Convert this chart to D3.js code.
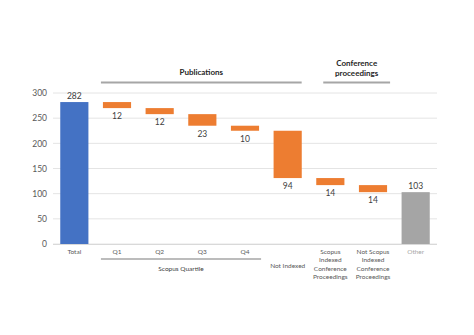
<!DOCTYPE html>
<html><head><meta charset="utf-8">
<script src="https://cdn.jsdelivr.net/npm/d3@7"></script>
<style>body{margin:0;background:#fff}svg{display:block;font-family:Lato,"Open Sans",sans-serif}</style>
</head><body><div id="chart"></div>
<script>
const categories = ["Total","Q1","Q2","Q3","Q4","Not Indexed","Scopus Indexed Conference Proceedings","Not Scopus Indexed Conference Proceedings","Other"];
const categoryLines = [["Total"],["Q1"],["Q2"],["Q3"],["Q4"],["Not Indexed"],["Scopus","Indexed","Conference","Proceedings"],["Not Scopus","Indexed","Conference","Proceedings"],["Other"]];
const values = [282,12,12,23,10,94,14,14,103];
const kinds = ["total","decrease","decrease","decrease","decrease","decrease","decrease","decrease","other"];
const yTicks = [0,50,100,150,200,250,300];
const topGroupLabels = [["Publications"],["Conference","proceedings"]];
const bottomGroupLabel = "Scopus Quartile";
const colors = {total:"#4472C4", decrease:"#ED7D31", other:"#A5A5A5"};

const W=474,H=335;
const svg=d3.select("#chart").append("svg").attr("width",W).attr("height",H);
const x=d3.scaleBand().domain(categories).range([53,437]).paddingInner(0.34).paddingOuter(0.17);
const y=d3.scaleLinear().domain([0,300]).range([244,93]);

// gridlines
svg.append("g").selectAll("line").data(yTicks).join("line")
 .attr("x1",53).attr("x2",437).attr("y1",d=>y(d)).attr("y2",d=>y(d))
 .attr("stroke","#E4E4E4").attr("stroke-width",1);

// y axis labels
const yAxis=d3.axisLeft(y).tickValues(yTicks).tickSize(0).tickPadding(6);
const ga=svg.append("g").attr("transform","translate(53,0)").call(yAxis);
ga.select(".domain").remove();
ga.selectAll("text").attr("fill","#595959").style("font-size","8.5px").style("font-family","Lato,sans-serif");

// compute waterfall
let running=0;
const bars=values.map((v,i)=>{
  let lo,hi;
  if(kinds[i]==="total"){lo=0;hi=v;running=v;}
  else if(kinds[i]==="other"){lo=0;hi=v;}
  else {hi=running;lo=running-v;running=lo;}
  return {cat:categories[i],v,lo,hi,kind:kinds[i]};
});
svg.append("g").selectAll("rect").data(bars).join("rect")
 .attr("x",d=>x(d.cat)).attr("width",x.bandwidth())
 .attr("y",d=>y(d.hi)).attr("height",d=>y(d.lo)-y(d.hi))
 .attr("fill",d=>colors[d.kind]);

// data labels
svg.append("g").selectAll("text").data(bars).join("text")
 .attr("x",d=>x(d.cat)+x.bandwidth()/2)
 .attr("y",d=>d.kind==="decrease"? y(d.lo)+11 : y(d.hi)-3)
 .attr("text-anchor","middle").attr("fill","#404040").style("font-size","8.5px")
 .text(d=>d.v);

// baseline axis
svg.append("line").attr("x1",53).attr("x2",437).attr("y1",244.5).attr("y2",244.5).attr("stroke","#D9D9D9");

// category labels
const cl=svg.append("g");
categories.forEach((c,i)=>{
  const lines=categoryLines[i];
  const cx=x(c)+x.bandwidth()/2;
  const y0 = c==="Not Indexed"?268:254;
  lines.forEach((t,j)=>{
    cl.append("text").attr("x",cx).attr("y",y0+j*8.4).attr("text-anchor","middle")
      .attr("fill", c==="Other"?"#A6A6A6":"#595959").style("font-size","6.5px").text(t);
  });
});

// bottom group: Scopus Quartile (Q1..Q4)
const bx0=x("Q1")-2, bx1=x("Q4")+x.bandwidth()+2;
svg.append("line").attr("x1",bx0).attr("x2",bx1).attr("y1",259).attr("y2",259).attr("stroke","#A6A6A6").attr("stroke-width",1.3);
svg.append("text").attr("x",(bx0+bx1)/2).attr("y",271).attr("text-anchor","middle").attr("fill","#404040").style("font-size","6.5px").text(bottomGroupLabel);

// top group: Publications
const qx0=x("Q1")-2, qx1=x("Not Indexed")+x.bandwidth()/2+14;
svg.append("line").attr("x1",qx0).attr("x2",qx1).attr("y1",82.5).attr("y2",82.5).attr("stroke","#A6A6A6").attr("stroke-width",1.8);
svg.append("text").attr("x",(qx0+qx1)/2).attr("y",74.5).attr("text-anchor","middle").attr("fill","#262626").style("font-size","8px").style("font-weight","bold").text(topGroupLabels[0][0]);

// top group: Conference proceedings
const cx0=x("Scopus Indexed Conference Proceedings")+7, cx1=x("Not Scopus Indexed Conference Proceedings")+x.bandwidth()+3;
svg.append("line").attr("x1",cx0).attr("x2",cx1).attr("y1",82.5).attr("y2",82.5).attr("stroke","#A6A6A6").attr("stroke-width",1.8);
topGroupLabels[1].forEach((t,j)=>{
  svg.append("text").attr("x",(cx0+cx1)/2).attr("y",65.5+j*10).attr("text-anchor","middle").attr("fill","#262626").style("font-size","8px").style("font-weight","bold").text(t);
});
</script></body></html>
